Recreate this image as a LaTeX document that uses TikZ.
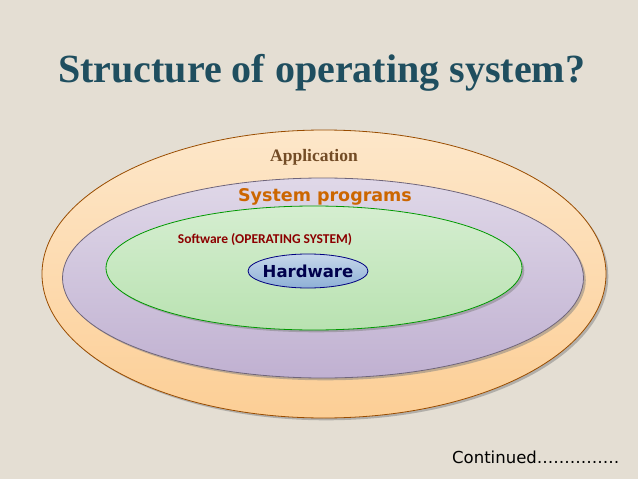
\documentclass[tikz,border=0pt]{standalone}
\usepackage{fontspec}
\setmainfont{Liberation Serif}
\newfontfamily\sansf{DejaVu Sans}
\newfontfamily\carl{Carlito}
\usetikzlibrary{shapes.geometric,shadows}
\definecolor{bg}{HTML}{E4DED3}
\definecolor{titlec}{HTML}{1F4E5F}
\definecolor{orangef}{HTML}{FCD7A6}
\definecolor{purplef}{HTML}{B9A8CC}
\definecolor{greenf}{HTML}{B9E2B1}
\definecolor{bluef}{HTML}{8EB0D6}
\tikzset{ring/.style={ellipse,draw=#1!60!black,line width=0.8pt,inner sep=0pt},
 lbl/.style={font=\bfseries}}
\begin{document}
\begin{tikzpicture}[x=1pt,y=-1pt]
\fill[bg] (0,0) rectangle (638,479);
\useasboundingbox (0,0) rectangle (638,479);
\node[ring=orange, minimum width=564, minimum height=288, top color=orangef!60, bottom color=orangef!90!orange, drop shadow] (app) at (324,274) {};
\node[ring=purplef, minimum width=521, minimum height=200, top color=purplef!45, bottom color=purplef!90, drop shadow] (sys) at (323,278) {};
\node[ring=green, minimum width=416, minimum height=124, top color=greenf!60, bottom color=greenf, drop shadow] (os) at (314,268) {};
\node[ring=blue, draw=blue!50!black, minimum width=120, minimum height=34, top color=bluef!50, bottom color=bluef] (hw) at (308,271) {};
\node[font=\sansf\bfseries\fontsize{16.5}{18}\selectfont, text=blue!30!black] (hwt) at (hw.center) {Hardware};
\node[font=\bfseries\fontsize{40}{44}\selectfont, text=titlec, anchor=west, inner sep=0pt] (title) at (58,73) {Structure of operating system?};
\node[font=\bfseries\fontsize{17.5}{20}\selectfont, text=brown!60!black] (appt) at (314,157) {Application};
\node[font=\sansf\bfseries\fontsize{17.5}{20}\selectfont, text=orange!80!black] (syst) at (325,197) {System programs};
\node[font=\carl\bfseries\fontsize{13.5}{15}\selectfont, text=red!55!black, inner sep=0pt] (ost) at (265,240) {Software (OPERATING SYSTEM)};
\node[font=\sansf\fontsize{16.5}{18}\selectfont, anchor=west, inner sep=0pt] (cont) at (452,457) {Continued……………};
\end{tikzpicture}
\end{document}
